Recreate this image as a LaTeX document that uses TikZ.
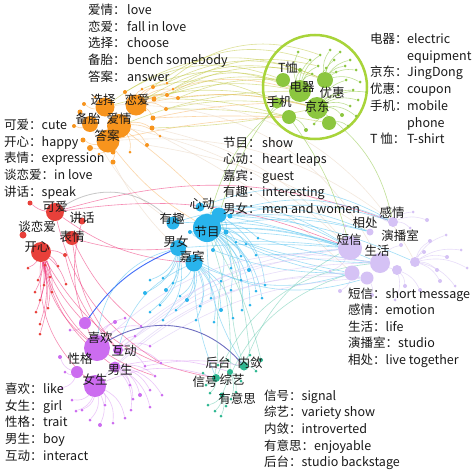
\documentclass[tikz,border=0pt]{standalone}
\usepackage{fontspec}
\setmainfont{Noto Sans CJK SC}
\pgfdeclarelayer{paper}
\pgfdeclarelayer{edges}
\pgfsetlayers{paper,edges,main}
\definecolor{org}{HTML}{F7941D}
\definecolor{grn}{HTML}{8CC63F}
\definecolor{ring}{HTML}{A8D43A}
\definecolor{rd}{HTML}{E8403A}
\definecolor{blu}{HTML}{29B4EC}
\definecolor{lav}{HTML}{D5C2F5}
\definecolor{vio}{HTML}{CC6CF0}
\definecolor{tea}{HTML}{2DB791}
\newcommand\lfs{\fontsize{12.5}{14}\selectfont}
\begin{document}
\begin{tikzpicture}[x=1pt,y=-1pt,
  dot/.style={circle,inner sep=0pt,draw=none},
  lab/.style={font=\lfs,inner sep=0pt,text height=10.5pt,text depth=2pt,text=black!90},
  ed/.style={line width=0.6pt,opacity=0.55},
  oe/.style={ed,draw=org!70},
  ye/.style={ed,draw=ring!75!org,opacity=0.5},
  be/.style={ed,draw=brown!30,opacity=0.6},
  gy/.style={ed,draw=gray!80,line width=0.8pt},
  pe/.style={ed,draw=rd!70!magenta},
  bl/.style={ed,draw=blu!80},
  db/.style={ed,draw=blue!60!blu,line width=0.9pt,opacity=0.8},
  dg/.style={ed,draw=blue!40!gray,line width=0.9pt,opacity=0.8},
  ve/.style={ed,draw=vio!70},
  lv/.style={ed,draw=lav},
  te/.style={ed,draw=tea!70},
  ge/.style={ed,draw=grn}]
\useasboundingbox (0,0) rectangle (474,474);
\begin{pgfonlayer}{paper}
\fill[white] (0,0) rectangle (474,474);
\end{pgfonlayer}

% ---------------- orange cluster
\node[dot,fill=org,minimum size=19pt] (oA) at (105,107) {};
\node[dot,fill=org,minimum size=21pt] (oB) at (136,105) {};
\node[dot,fill=org,minimum size=16pt] (oC) at (90,124) {};
\node[dot,fill=org,minimum size=24pt] (oD) at (119,126) {};
\node[dot,fill=org,minimum size=23pt] (oE) at (108,141) {};
\foreach \x/\y/\h/\s [count=\i] in {80/112/oC/5,74/126/oC/4,83/140/oE/5,90/148/oE/6,152/128/oD/5,153/118/oB/5,166/109/oB/4,154/99/oB/5,167/95/oB/4,173/89/oB/3,178/98/oB/4,153/87/oB/4,167/83/oB/3,113/152/oE/5,113/162/oE/5,147/145/oD/4,125/92/oB/4,95/97/oA/3,84/104/oA/4,142/89/oB/3,160/136/oD/3,99/154/oE/3,130/152/oD/3,145/110/oB/3}{
  \node[dot,fill=org,minimum size=\s pt] (os\i) at (\x,\y) {};
  \begin{pgfonlayer}{edges}\draw[oe] (\h) to[bend left=20] (os\i);\end{pgfonlayer}
}

% ---------------- green cluster
\node[draw=ring,line width=2.5pt,circle,minimum size=104pt,inner sep=0pt] (gring) at (315,87) {};
\node[dot,fill=grn,minimum size=14pt] (gA) at (283,80) {};
\node[dot,fill=grn,minimum size=22pt] (gB) at (300,91) {};
\node[dot,fill=grn,minimum size=16pt] (gC) at (325,80) {};
\node[dot,fill=grn,minimum size=22pt] (gD) at (317,108) {};
\node[dot,fill=grn,minimum size=11pt] (gE) at (277,103) {};
\node[dot,fill=grn,minimum size=14pt] (gF) at (289,117) {};
\node[dot,fill=grn,minimum size=14pt] (gG) at (329,123) {};
\foreach \x/\y/\h/\s [count=\i] in {320/55/gB/3,330/50/gC/3,340/52/gC/3,350/60/gC/3,356/70/gC/3,345/66/gC/3,334/60/gC/3,318/66/gB/3,346/80/gD/3,353/90/gD/3,358/100/gD/3,350/106/gD/3,342/115/gD/4,356/116/gD/3,338/95/gD/3,310/60/gB/3,300/70/gB/4,360/82/gC/3,348/126/gG/3,306/130/gF/4,314/124/gD/3,326/68/gC/3,336/72/gC/3,312/74/gB/3,366/92/gD/2,298/52/gB/3}{
  \node[dot,fill=grn,minimum size=\s pt] (gs\i) at (\x,\y) {};
  \begin{pgfonlayer}{edges}\draw[ge] (\h) to[bend left=20] (gs\i);\end{pgfonlayer}
}

% ---------------- red cluster
\node[dot,fill=rd,minimum size=18pt] (rA) at (55,212) {};
\node[dot,fill=rd,minimum size=7pt] (rB) at (82,221) {};
\node[dot,fill=rd,minimum size=7pt] (rC) at (23,235) {};
\node[dot,fill=rd,minimum size=14pt] (rD) at (72,238) {};
\node[dot,fill=rd,minimum size=20pt] (rE) at (41,252) {};
\foreach \x/\y/\h/\s [count=\i] in {30/203/rA/5,65/255/rE/4,45/265/rE/3,38/280/rE/3,50/277/rE/3,35/292/rE/3,40/300/rE/3,52/292/rE/3,36/312/rE/3,48/308/rE/3,40/324/rE/3,40/334/rE/3,28/268/rE/3,58/266/rE/3,66/284/rE/3,44/285/rE/3}{
  \node[dot,fill=rd,minimum size=\s pt] (rs\i) at (\x,\y) {};
  \begin{pgfonlayer}{edges}\draw[pe] (\h) to[bend left=15] (rs\i);\end{pgfonlayer}
}

% ---------------- blue cluster
\node[dot,fill=blu,minimum size=28pt] (bA) at (207,228) {};
\node[dot,fill=blu,minimum size=15pt] (bB) at (219,215) {};
\node[dot,fill=blu,minimum size=13pt] (bC) at (173,223) {};
\node[dot,fill=blu,minimum size=16pt] (bD) at (178,248) {};
\node[dot,fill=blu,minimum size=17pt] (bE) at (194,263) {};
\node[dot,fill=blu,minimum size=9pt] (bF) at (200,207) {};
\foreach \x/\y/\h/\s [count=\i] in {145/293/bD/4,150/280/bD/3,163/278/bD/3,166/290/bD/4,173/283/bE/3,180/296/bE/3,187/300/bE/4,200/306/bE/3,211/298/bE/3,221/310/bE/4,176/310/bE/3,160/305/bD/3,231/290/bA/3,241/280/bA/3,249/270/bA/4,256/255/bA/3,241/256/bA/3,231/268/bA/3,221/281/bA/3,236/242/bA/3,246/244/bA/3,150/312/bD/3,163/320/bD/3,196/320/bE/3,214/322/bE/3,226/232/bB/5,230/216/bB/5,190/232/bA/4,213/250/bA/4,258/238/bA/3,262/298/bA/3,256/291/bA/3,250/305/bA/3,242/310/bA/3,233/318/bE/3,265/285/bB/3}{
  \node[dot,fill=blu,minimum size=\s pt] (bs\i) at (\x,\y) {};
  \begin{pgfonlayer}{edges}\draw[bl] (\h) to[bend left=25] (bs\i);\end{pgfonlayer}
}

% ---------------- lavender cluster
\node[dot,fill=lav,minimum size=24pt] (lA) at (350,248) {};
\node[dot,fill=lav,minimum size=20pt] (lB) at (380,263) {};
\node[dot,fill=lav,minimum size=15pt] (lC) at (352,273) {};
\node[dot,fill=lav,minimum size=13pt] (lD) at (367,278) {};
\node[dot,fill=lav,minimum size=10pt] (lE) at (397,270) {};
\node[dot,fill=lav,minimum size=10pt] (lF) at (393,222) {};
\node[dot,fill=lav,minimum size=10pt] (lG) at (415,262) {};
\node[dot,fill=lav,minimum size=7pt] (lH) at (370,232) {};
\foreach \x/\y/\h/\s [count=\i] in {437/270/lG/4,447/257/lG/4,427/220/lF/4,413/212/lF/3,440/281/lG/4,455/286/lG/3,420/290/lE/4,405/286/lE/4,395/300/lE/3,430/241/lG/4,446/235/lG/3,461/250/lG/3,424/252/lG/4,380/216/lF/3,401/245/lB/4,345/226/lA/3,330/271/lA/3,340/291/lC/4,467/268/lG/3,372/295/lD/4,410/228/lF/3}{
  \node[dot,fill=lav,minimum size=\s pt] (ls\i) at (\x,\y) {};
  \begin{pgfonlayer}{edges}\draw[lv] (\h) to[bend left=20] (ls\i);\end{pgfonlayer}
}

% ---------------- violet cluster
\node[dot,fill=vio,minimum size=26pt] (vA) at (97,348) {};
\node[dot,fill=vio,minimum size=10pt] (vB) at (118,350) {};
\node[dot,fill=vio,minimum size=12pt] (vC) at (77,372) {};
\node[dot,fill=vio,minimum size=11pt] (vD) at (115,367) {};
\node[dot,fill=vio,minimum size=22pt] (vE) at (95,386) {};
\node[dot,fill=vio,minimum size=12pt] (vF) at (85,323) {};
\foreach \x/\y/\h/\s [count=\i] in {60/357/vC/4,65/372/vC/3,62/388/vC/3,72/400/vE/3,76/411/vE/3,90/420/vE/3,100/425/vE/4,113/423/vE/3,125/418/vE/3,131/410/vD/3,133/399/vD/3,140/395/vD/4,150/390/vD/3,155/376/vD/3,145/366/vB/3,161/363/vB/3,150/346/vB/3,135/336/vB/3,141/326/vA/3,115/322/vA/4,70/330/vF/3,82/410/vE/3,130/385/vD/3,150/407/vD/3,105/405/vE/3,162/395/vD/3,125/318/vA/3}{
  \node[dot,fill=vio,minimum size=\s pt] (vs\i) at (\x,\y) {};
  \begin{pgfonlayer}{edges}\draw[ve] (\h) to[bend left=25] (vs\i);\end{pgfonlayer}
}

% ---------------- teal cluster
\node[dot,fill=tea,minimum size=9pt] (tA) at (244,366) {};
\node[dot,fill=tea,minimum size=8pt] (tB) at (216,378) {};
\node[dot,fill=tea,minimum size=6pt] (tC) at (230,372) {};
\node[dot,fill=tea,minimum size=5pt] (tD) at (222,395) {};
\foreach \x/\y/\h/\s [count=\i] in {203/373/tB/3,206/385/tB/3,210/393/tB/3,208/405/tD/3,215/411/tD/3,221/416/tD/3,226/406/tD/3,231/399/tC/3,236/392/tC/3,241/381/tC/3,256/371/tA/3,261/360/tA/4,250/355/tA/3,218/365/tB/3,228/360/tA/3}{
  \node[dot,fill=tea,minimum size=\s pt] (ts\i) at (\x,\y) {};
  \begin{pgfonlayer}{edges}\draw[te] (\h) to[bend left=20] (ts\i);\end{pgfonlayer}
}

% ---------------- cross edges
\begin{pgfonlayer}{edges}
\foreach \a/\b/\bd/\c in {oB/gB/20/oe,oB/gC/25/ye,oA/gD/15/ye,oD/gB/10/ye,oE/gF/5/oe,os9/gA/15/ye,os12/gE/20/ye,os10/gB/25/ye,os11/gD/10/ye,os13/gC/25/ye,os7/gG/5/ye,os8/gF/8/ye,os6/gE/5/oe,os5/gD/-5/ye,os17/gA/25/ye,os20/gB/22/ye,
  os9/gs17/18/ye,os10/gs8/22/ye,os11/gA/12/ye,os12/gs16/28/ye,os13/gs1/30/ye,os7/gE/8/ye,os6/gF/2/oe,os8/gB/14/ye,oB/gD/12/oe,oA/gC/30/ye,
  oD/lA/15/be,oE/lF/20/be,oB/lB/30/be,oA/lG/35/be,oE/bA/-10/oe,oD/bB/5/oe,oC/bC/-15/be,os16/lH/12/be,os21/lC/8/be,os5/lA/18/be,os15/bE/-10/be,
  rA/bC/40/gy,rA/lA/15/pe,rA/lF/18/pe,rE/vA/-20/pe,rE/vE/-25/pe,rD/vB/-15/pe,rE/vD/-20/pe,rA/bE/-15/pe,rE/tB/-25/pe,rD/bD/-10/pe,rE/vF/-10/pe,rB/vA/-20/pe,rs2/vB/-15/pe,rA/vs16/-22/pe,rD/vs19/-12/pe,rE/vs14/-28/pe,
  bA/lA/8/bl,bB/lA/15/bl,bB/lF/20/bl,bA/lB/-10/bl,bE/lC/-20/bl,bD/lD/-25/bl,bC/lH/20/bl,bD/vF/-15/db,bE/tB/-10/bl,bA/tA/-15/bl,bE/vB/-25/bl,bD/vA/-35/bl,bF/lF/25/bl,bB/lG/10/bl,
  bs26/lA/6/bl,bs27/lH/10/bl,bs20/lA/4/bl,bs21/lC/-5/bl,bs30/lB/-4/bl,bs28/lA/12/bl,bs29/lC/-10/bl,bs16/lA/-3/bl,bA/lH/12/bl,bB/lB/6/bl,bC/lA/10/bl,bF/lA/18/bl,bs27/lF/16/bl,bs20/lD/-8/bl,bD/lA/4/bl,
  vA/tA/40/dg,vD/lC/20/lv,vE/lD/25/lv,vB/lA/15/lv,vA/lE/30/lv,vs18/lA/18/lv,vs19/lB/22/lv,vE/tB/20/ve,vD/tC/15/ve,vB/lB/18/lv,vs17/lD/14/lv,vs15/tA/10/ve,
  tA/lA/20/te,tC/bA/-10/te,tB/lB/30/te,tD/lC/25/te,ts12/bA/-8/te,ts13/bB/-6/te,ts14/bs19/5/te,tA/bs13/8/te,
  gD/lF/20/ge,gF/lA/10/ge,gB/bA/-20/ge,gE/bB/-10/ge}{
  \draw[\c] (\a) to[bend left=\bd] (\b);
}
\end{pgfonlayer}

% ---------------- cluster labels
\foreach \x/\y/\t [count=\i] in {103/100/选择,137/100/恋爱,88/119/备胎,119/119/爱情,107/136/答案,
  288/68/T恤,302/87/电器,332/93/优惠,279/102/手机,317/107/京东,
  55/207/可爱,82/218/讲话,37/227/谈恋爱,72/237/表情,37/247/开心,
  202/204/心动,172/219/有趣,207/232/节目,176/242/男女,192/257/嘉宾,
  392/213/感情,365/223/相处,349/240/短信,400/236/演播室,377/251/生活,
  100/338/喜欢,124/351/互动,80/359/性格,120/370/男生,95/380/女生,
  218/363/后台,250/363/内敛,205/382/信号,232/380/综艺,237/399/有意思}{
  \node[lab] (cl\i) at (\x,\y) {\t};
}

% ---------------- legends
\foreach \c/\e [count=\i] in {爱情/love,恋爱/fall in love,选择/choose,备胎/bench somebody,答案/answer}{
  \node[lab,anchor=west] (la\i) at (88,{10+16.75*(\i-1)}) {\c：};
  \node[lab,anchor=west] (le\i) at (127,{10+16.75*(\i-1)}) {\e};
}
\foreach \c/\e/\k in {电器/electric/0,京东/JingDong/2,优惠/coupon/3,手机/mobile/4,T 恤/T-shirt/6}{
  \node[lab,anchor=west] (ga\k) at (370,{39+16.75*\k}) {\c：};
  \node[lab,anchor=west] (ge\k) at (407,{39+16.75*\k}) {\e};
}
\node[lab,anchor=west] (ge1) at (407,{39+16.75}) {equipment};
\node[lab,anchor=west] (ge5) at (407,{39+16.75*5}) {phone};
\foreach \c/\e [count=\i] in {可爱/cute,开心/happy,表情/expression,谈恋爱/in love,讲话/speak}{
  \node[lab,anchor=west] (ra\i) at (4,{125+16.75*(\i-1)}) {\c：\e};
}
\foreach \c/\e [count=\i] in {节目/show,心动/heart leaps,嘉宾/guest,有趣/interesting,男女/men and women}{
  \node[lab,anchor=west] (ba\i) at (223,{143+16.5*(\i-1)}) {\c：};
  \node[lab,anchor=west] (be\i) at (262,{143+16.5*(\i-1)}) {\e};
}
\foreach \c/\e [count=\i] in {短信/short message,感情/emotion,生活/life,演播室/studio,相处/live together}{
  \node[lab,anchor=west] (lla\i) at (348,{294+16.5*(\i-1)}) {\c：\e};
}
\foreach \c/\e [count=\i] in {喜欢/like,女生/girl,性格/trait,男生/boy,互动/interact}{
  \node[lab,anchor=west] (va\i) at (5,{389+16.75*(\i-1)}) {\c：};
  \node[lab,anchor=west] (ve\i) at (43,{389+16.75*(\i-1)}) {\e};
}
\foreach \c/\e [count=\i] in {信号/signal,综艺/variety show,内敛/introverted,有意思/enjoyable,后台/studio backstage}{
  \node[lab,anchor=west] (ta\i) at (264,{396+16.6*(\i-1)}) {\c：\e};
}
\end{tikzpicture}
\end{document}
